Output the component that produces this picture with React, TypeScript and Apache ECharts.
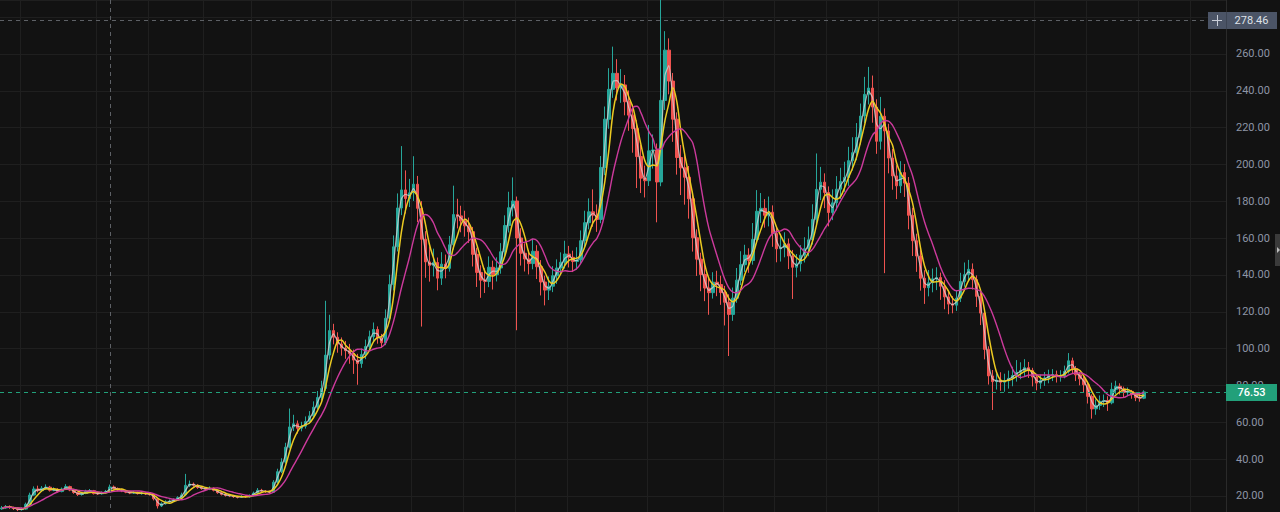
import React, { useEffect, useRef } from "react";
import * as echarts from "echarts";

// ---- data ----
const firstOpen = 13.0;
const closes = [
  13.5, 14.2, 13.8, 13.2, 12.6, 12.9, 15.5, 20.5, 23.8, 22.9,
  24.2, 24.8, 23.1, 23.6, 22.4, 23.8, 25.1, 23.2, 21.9, 20.8,
  21.4, 22.6, 22.9, 21.3, 21.2, 21.8, 22.4, 24.9, 24.1, 23.2,
  22.8, 22.1, 21.6, 21.9, 21.3, 21.5, 21.1, 20.9, 18.5, 14.6,
  15.8, 16.9, 17.2, 17.8, 19.1, 20.6, 25.8, 26.5, 25.9, 24.6,
  24.1, 23.7, 24.3, 23.1, 21.8, 20.9, 20.3, 20.1, 19.6, 19.3,
  19.8, 19.5, 20.2, 21.6, 23.1, 22.7, 22.3, 22.0, 27.5, 33.2,
  38.4, 46.5, 57.5, 59.2, 56.8, 57.9, 60.4, 63.5, 68.2, 73.5,
  78.4, 96.5, 109.8, 106.2, 102.5, 100.3, 98.9, 97.4, 93.8, 91.9,
  96.8, 101.2, 106.5, 110.4, 105.8, 103.2, 116.5, 134.8, 155.3, 176.4,
  186.2, 181.5, 184.6, 189.3, 176.2, 159.4, 147.1, 145.2, 146.8, 138.3,
  145.9, 143.6, 156.4, 172.8, 172.1, 169.4, 166.7, 163.5, 151.2, 141.4,
  137.2, 136.5, 144.2, 140.1, 143.8, 152.6, 166.9, 176.5, 180.2, 160.1,
  151.8, 148.7, 146.2, 152.9, 144.5, 136.2, 131.8, 133.9, 139.6, 143.8,
  146.9, 151.4, 149.6, 147.3, 148.2, 158.6, 168.4, 174.3, 172.5, 170.2,
  198.4, 224.6, 240.8, 249.5, 241.6, 243.2, 234.1, 226.8, 219.5, 204.3,
  192.6, 191.2, 207.4, 207.9, 190.5, 234.8, 262.1, 245.3, 224.6, 203.8,
  198.2, 193.1, 181.4, 160.2, 148.6, 140.3, 132.9, 130.4, 136.1, 134.8,
  130.5, 125.2, 118.6, 127.4, 137.2, 145.6, 150.8, 147.9, 159.3, 174.6,
  176.2, 172.4, 174.1, 162.5, 154.2, 154.8, 156.9, 150.3, 144.2, 146.1,
  150.7, 154.3, 159.1, 170.2, 186.5, 190.4, 184.8, 173.9, 179.2, 186.6,
  190.8, 192.9, 202.1, 206.4, 214.7, 226.3, 238.1, 241.5, 231.2, 212.6,
  226.2, 218.2, 203.5, 193.8, 188.4, 195.6, 189.9, 172.4, 158.6, 150.3,
  138.2, 133.1, 135.8, 137.9, 138.6, 133.9, 128.1, 124.2, 123.6, 127.4,
  136.5, 140.2, 143.1, 137.5, 128.4, 119.3, 99.6, 85.2, 82.1, 82.9,
  81.8, 82.6, 83.9, 85.4, 87.2, 88.1, 89.7, 88.2, 84.6, 81.3,
  82.7, 84.1, 85.3, 85.9, 84.8, 85.2, 87.6, 93.4, 89.2, 85.8,
  83.6, 80.4, 74.1, 67.3, 69.2, 71.4, 71.8, 70.6, 77.9, 79.6,
  78.1, 76.2, 76.8, 75.1, 73.4, 73.1, 76.53,
];
const highs = [
  14.6, 15.1, 14.9, 14.1, 13.6, 13.9, 16.4, 21.8, 25.2, 25.6,
  25.4, 26.3, 25.5, 24.7, 24.2, 24.6, 26.4, 25.6, 23.7, 22.3,
  22.2, 23.4, 23.8, 23.3, 22.1, 22.5, 23.3, 26.2, 25.7, 24.6,
  23.9, 23.2, 22.6, 22.7, 22.3, 22.2, 21.9, 21.7, 21.3, 18.9,
  16.6, 17.7, 18.1, 18.7, 19.9, 21.8, 32.0, 28.4, 27.3, 26.4,
  25.3, 24.8, 25.2, 24.6, 23.5, 22.4, 21.4, 21.0, 20.6, 20.1,
  20.4, 20.3, 20.9, 22.4, 24.3, 23.9, 23.2, 22.9, 28.6, 34.8,
  40.5, 48.9, 67.5, 64.1, 61.0, 60.3, 63.2, 66.1, 71.4, 77.0,
  82.6, 126.0, 118.4, 113.5, 108.9, 106.1, 104.2, 102.6, 99.5, 97.2,
  100.1, 104.9, 109.8, 114.2, 112.1, 108.0, 121.3, 140.2, 161.5, 184.3,
  210.0, 196.8, 192.2, 204.5, 193.8, 180.1, 163.8, 155.6, 154.3, 149.5,
  152.4, 151.1, 161.2, 188.5, 181.4, 177.6, 174.9, 171.2, 166.1, 154.8,
  145.3, 143.6, 150.1, 147.8, 149.6, 157.3, 172.4, 185.2, 193.0, 182.6,
  165.4, 157.2, 153.6, 159.8, 156.2, 148.1, 139.6, 139.2, 144.8, 148.5,
  152.3, 158.6, 155.8, 153.2, 155.1, 164.2, 174.9, 181.6, 186.5, 178.3,
  204.6, 231.5, 252.3, 264.0, 257.2, 251.8, 248.6, 240.2, 232.5, 224.1,
  210.8, 199.4, 221.5, 216.3, 211.4, 289.5, 272.4, 268.5, 249.7, 228.3,
  210.6, 205.7, 199.2, 185.3, 164.8, 152.1, 145.6, 138.2, 141.5, 142.3,
  139.6, 134.1, 129.5, 133.2, 143.8, 152.9, 156.4, 154.5, 168.2, 186.1,
  184.5, 181.2, 182.6, 177.8, 166.4, 161.5, 163.2, 159.8, 153.6, 151.4,
  156.2, 160.5, 166.3, 178.4, 206.0, 198.7, 195.2, 188.1, 186.5, 193.7,
  198.2, 201.5, 209.6, 214.8, 222.5, 233.1, 247.6, 253.0, 248.3, 235.4,
  236.7, 230.5, 222.1, 208.4, 199.6, 201.8, 200.3, 193.2, 176.5, 162.4,
  153.8, 142.6, 142.7, 143.5, 144.2, 141.3, 137.2, 131.6, 128.5, 131.8,
  141.2, 146.8, 148.2, 146.3, 139.8, 130.5, 121.4, 101.3, 88.4, 86.5,
  87.2, 86.4, 88.1, 90.2, 93.8, 92.6, 94.3, 92.8, 89.6, 86.2,
  85.9, 87.3, 88.6, 88.9, 88.1, 88.3, 90.8, 97.6, 95.1, 90.6,
  87.4, 84.9, 81.6, 75.2, 72.4, 74.6, 75.1, 74.2, 81.5, 82.6,
  81.2, 79.4, 78.9, 77.6, 76.2, 75.4, 77.4,
];
const lows = [
  12.5, 13.1, 13.0, 12.4, 11.8, 12.0, 12.5, 15.0, 20.1, 22.0,
  22.3, 23.5, 22.4, 22.6, 21.8, 22.0, 23.3, 22.6, 21.2, 20.0,
  20.2, 21.0, 22.0, 20.8, 20.6, 20.7, 21.4, 22.0, 23.5, 22.6,
  22.1, 21.5, 21.0, 21.1, 20.8, 20.7, 20.5, 20.2, 17.6, 13.2,
  14.0, 15.3, 16.4, 16.8, 17.3, 18.7, 20.2, 24.9, 25.0, 23.9,
  23.4, 23.0, 23.2, 22.5, 21.2, 20.3, 19.7, 19.4, 19.0, 18.7,
  18.9, 19.0, 19.1, 19.9, 21.2, 22.1, 21.7, 21.4, 21.7, 27.0,
  32.4, 37.6, 45.8, 55.3, 53.9, 55.1, 56.6, 59.2, 62.5, 67.1,
  71.8, 77.2, 94.1, 102.3, 97.8, 96.2, 94.5, 91.8, 86.3, 80.4,
  89.6, 94.3, 99.4, 104.1, 102.7, 100.4, 101.9, 114.8, 131.6, 152.8,
  172.5, 173.4, 176.9, 180.2, 168.7, 112.0, 138.5, 136.4, 139.2, 131.7,
  134.6, 138.2, 141.8, 153.9, 165.3, 163.2, 160.8, 157.4, 144.6, 133.5,
  127.6, 130.2, 133.4, 132.1, 136.5, 140.7, 150.3, 163.1, 171.8, 110.0,
  145.1, 141.9, 140.3, 143.1, 137.8, 128.9, 123.5, 126.4, 130.7, 135.2,
  140.6, 143.5, 144.1, 141.6, 142.8, 146.5, 155.2, 164.8, 166.2, 163.4,
  168.1, 194.2, 219.4, 236.2, 234.8, 233.5, 226.7, 218.3, 206.4, 187.2,
  184.5, 182.1, 188.3, 197.8, 168.6, 188.2, 229.6, 238.1, 212.3, 194.5,
  183.4, 178.2, 170.6, 152.7, 139.5, 131.2, 125.8, 118.4, 127.2, 128.5,
  123.8, 112.6, 96.0, 115.1, 124.9, 134.5, 141.7, 141.2, 145.6, 156.9,
  168.3, 165.7, 166.4, 155.3, 146.9, 147.3, 149.6, 143.2, 127.0, 138.7,
  141.9, 146.8, 150.2, 156.5, 167.3, 180.6, 176.3, 166.4, 169.8, 175.1,
  181.3, 185.2, 188.4, 196.7, 202.3, 210.8, 222.4, 232.6, 222.7, 205.8,
  208.1, 141.0, 195.2, 186.3, 181.2, 184.5, 182.4, 164.8, 150.3, 141.7,
  131.5, 124.3, 128.4, 130.6, 131.8, 126.5, 121.4, 118.7, 119.2, 120.5,
  125.3, 133.6, 136.5, 132.1, 122.6, 112.8, 94.2, 80.5, 66.7, 77.8,
  77.1, 76.6, 78.3, 79.6, 82.1, 83.4, 84.6, 84.1, 79.5, 77.4,
  78.2, 79.8, 81.2, 82.4, 81.6, 82.1, 83.9, 86.5, 86.2, 82.4,
  80.1, 76.3, 70.2, 62.0, 64.1, 66.8, 68.3, 66.2, 69.8, 75.4,
  75.1, 73.2, 74.1, 72.8, 71.5, 71.2, 72.6,
];

const lastPrice = 76.53;
const crossPrice = 278.46;
const crossIndex = 27;
const totalSlots = 307; // candles + empty space on the right
const verticalGridIndices = [5, 24, 37, 51, 63, 83, 103, 116, 129, 142, 162, 181, 194, 207, 220, 240, 259, 272, 285, 298];
const yMin = 11.31;
const yMax = 289.32;
const yStep = 20;
const maFast = 2;
const maMid = 4;
const maSlow = 9;

// ---- styles ----
const BG = "#121212";
const GRID = "#1f1f1f";
const UP = "#26a69a";
const DOWN = "#ef5350";
const GREEN_LABEL = "#22a07a";
const AXIS_TEXT = "#8e95a6";

function movingAverage(values: number[], period: number) {
  return values.map((_, i) => {
    const start = Math.max(0, i - period + 1);
    let s = 0;
    for (let k = start; k <= i; k++) s += values[k];
    return +(s / (i - start + 1)).toFixed(3);
  });
}

export default function App() {
  const ref = useRef<HTMLDivElement>(null);

  useEffect(() => {
    document.body.style.margin = "0";
    document.body.style.background = BG;
    if (!ref.current) return;
    const chart = echarts.init(ref.current, null, { renderer: "svg" });

    const categories = Array.from({ length: totalSlots }, (_, i) => String(i));
    const opens = closes.map((_, i) => (i === 0 ? firstOpen : closes[i - 1]));
    const candles = closes.map((c, i) => {
      const o = opens[i];
      return [o, c, Math.min(lows[i], o, c), Math.max(highs[i], o, c)];
    });
    const gridSet = new Set(verticalGridIndices);

    chart.setOption({
      animation: false,
      backgroundColor: BG,
      grid: { left: 0, right: 54, top: 0, bottom: 0, containLabel: false },
      xAxis: {
        type: "category",
        data: categories,
        boundaryGap: true,
        axisLine: { show: false },
        axisTick: { show: false },
        axisLabel: { show: false },
        splitLine: {
          show: true,
          interval: (idx: number) => gridSet.has(idx),
          lineStyle: { color: GRID, width: 1 },
        },
      },
      yAxis: {
        type: "value",
        position: "right",
        min: yMin,
        max: yMax,
        splitNumber: 14,
        minInterval: yStep,
        maxInterval: yStep,
        axisLine: { show: true, lineStyle: { color: "#2a2a2a" } },
        axisTick: { show: false },
        axisLabel: {
          color: AXIS_TEXT,
          fontSize: 11,
          fontFamily: "Roboto",
          margin: 10,
          showMinLabel: false,
          showMaxLabel: false,
          // the tick hidden under the crosshair price box is not drawn
          formatter: (v: number) => (Math.abs(v - crossPrice) < 10 ? "" : v.toFixed(2)),
        },
        splitLine: { show: true, lineStyle: { color: GRID, width: 1 } },
      },
      series: [
        {
          type: "candlestick",
          data: candles,
          barWidth: 3,
          itemStyle: {
            color: UP,
            color0: DOWN,
            borderColor: UP,
            borderColor0: DOWN,
            borderWidth: 1,
          },
          z: 2,
        },
        {
          type: "line",
          data: movingAverage(closes, maFast),
          symbol: "none",
          smooth: 0.2,
          lineStyle: { color: "#d2d2d2", width: 1.2, opacity: 0.8 },
          z: 3,
        },
        {
          type: "line",
          data: movingAverage(closes, maMid),
          symbol: "none",
          smooth: 0.3,
          lineStyle: { color: "#eccb22", width: 1.5 },
          z: 4,
        },
        {
          type: "line",
          data: movingAverage(closes, maSlow),
          symbol: "none",
          smooth: 0.4,
          lineStyle: { color: "#cc3a9c", width: 1.4 },
          z: 5,
        },
      ],
    });

    const yc = chart.convertToPixel({ yAxisIndex: 0 }, crossPrice) as number;
    const yp = chart.convertToPixel({ yAxisIndex: 0 }, lastPrice) as number;
    const xc = chart.convertToPixel({ xAxisIndex: 0 }, crossIndex) as number;
    const dash = { stroke: "#5e6166", lineWidth: 1, lineDash: [4, 4] };

    chart.setOption({
      graphic: [
        { type: "line", silent: true, z: 50, shape: { x1: 0, y1: Math.round(yc) + 0.5, x2: 1208, y2: Math.round(yc) + 0.5 }, style: dash },
        { type: "line", silent: true, z: 50, shape: { x1: Math.round(xc) + 0.5, y1: 0, x2: Math.round(xc) + 0.5, y2: 512 }, style: dash },
        {
          type: "line", silent: true, z: 50,
          shape: { x1: 0, y1: Math.round(yp) + 0.5, x2: 1226, y2: Math.round(yp) + 0.5 },
          style: { stroke: GREEN_LABEL, lineWidth: 1, lineDash: [4, 4] },
        },
        { type: "rect", silent: true, z: 60, shape: { x: 1208, y: Math.round(yc) - 8, width: 69, height: 17 }, style: { fill: "#4b5466" } },
        { type: "line", silent: true, z: 61, shape: { x1: 1226.5, y1: Math.round(yc) - 8, x2: 1226.5, y2: Math.round(yc) + 9 }, style: { stroke: "#3d4554", lineWidth: 1 } },
        { type: "line", silent: true, z: 61, shape: { x1: 1212, y1: Math.round(yc) + 0.5, x2: 1222, y2: Math.round(yc) + 0.5 }, style: { stroke: "#c9ced8", lineWidth: 1 } },
        { type: "line", silent: true, z: 61, shape: { x1: 1217.5, y1: Math.round(yc) - 5, x2: 1217.5, y2: Math.round(yc) + 6 }, style: { stroke: "#c9ced8", lineWidth: 1 } },
        {
          type: "text", silent: true, z: 62,
          style: {
            text: crossPrice.toFixed(2), x: 1251.5, y: Math.round(yc) + 0.5,
            align: "center", verticalAlign: "middle", textAlign: "center", textVerticalAlign: "middle",
            fill: "#dfe2e8", fontSize: 11, fontFamily: "Roboto",
          },
        },
        { type: "rect", silent: true, z: 60, shape: { x: 1226, y: Math.round(yp) - 8, width: 51, height: 17 }, style: { fill: GREEN_LABEL } },
        {
          type: "text", silent: true, z: 62,
          style: {
            text: lastPrice.toFixed(2), x: 1251.5, y: Math.round(yp) + 0.5,
            align: "center", verticalAlign: "middle", textAlign: "center", textVerticalAlign: "middle",
            fill: "#ffffff", fontSize: 11, fontWeight: 500, fontFamily: "Roboto",
          },
        },
        { type: "rect", silent: true, z: 60, shape: { x: 1275, y: 234, width: 5, height: 32 }, style: { fill: "#3b3b3b" } },
        { type: "polygon", silent: true, z: 61, shape: { points: [[1277, 247], [1280, 250], [1277, 253]] }, style: { fill: "#bdbdbd" } },
      ],
    });

    return () => chart.dispose();
  }, []);

  return <div ref={ref} style={{ width: 1280, height: 512 }} />;
}
